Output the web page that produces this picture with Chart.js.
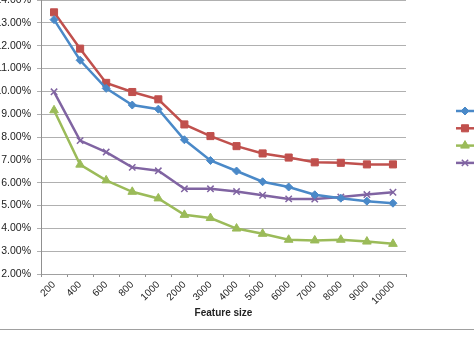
<!DOCTYPE html>
<html>
<head>
<meta charset="utf-8">
<script src="https://cdn.jsdelivr.net/npm/chart.js@4/dist/chart.umd.min.js"></script>
<style>
  html, body { margin: 0; padding: 0; background: #fff; overflow: hidden; width: 474px; height: 354px; }
  /* the original picture is cropped at the top: shift the canvas up */
  canvas { display: block; margin-top: -20px; }
</style>
</head>
<body>
<canvas id="chart" width="474" height="374"></canvas>
<script>
const categories = ['200', '400', '600', '800', '1000', '2000', '3000', '4000', '5000', '6000', '7000', '8000', '9000', '10000'];
const seriesNames = ['Series 1', 'Series 2', 'Series 3', 'Series 4'];
const blueVals   = [13.14, 11.36, 10.13, 9.40, 9.22, 7.88, 6.97, 6.51, 6.04, 5.81, 5.47, 5.32, 5.19, 5.10];
const redVals    = [13.46, 11.87, 10.37, 9.97, 9.65, 8.55, 8.04, 7.60, 7.28, 7.10, 6.89, 6.87, 6.80, 6.80];
const greenVals  = [9.17, 6.79, 6.10, 5.60, 5.31, 4.59, 4.45, 3.99, 3.76, 3.50, 3.47, 3.50, 3.42, 3.32];
const purpleVals = [9.98, 7.84, 7.34, 6.67, 6.52, 5.73, 5.73, 5.61, 5.45, 5.29, 5.28, 5.37, 5.48, 5.58];
const yMin = 2, yMax = 14, yStep = 1;

const colors = ['#4a89c8', '#c0504d', '#9bbb59', '#8064a2'];
const markers = ['rectRot', 'rect', 'triangle', 'crossRot'];
const radii = [4, 5, 5, 4.5];

const shiftY = 20; // same as the canvas margin-top above

function makeSet(i, data) {
  return {
    label: seriesNames[i], data,
    borderColor: colors[i], backgroundColor: colors[i],
    borderWidth: 2.5, tension: 0,
    pointStyle: markers[i], pointRadius: radii[i],
    pointBorderColor: colors[i], pointBackgroundColor: colors[i],
    pointBorderWidth: i === 3 ? 1.5 : 1
  };
}

// legend (its text lies outside the cropped picture) + bottom frame line
const extras = {
  id: 'extras',
  afterDraw(chart) {
    const ctx = chart.ctx;
    ctx.save();
    ctx.strokeStyle = '#a0a0a0';
    ctx.lineWidth = 1;
    ctx.beginPath();
    ctx.moveTo(0, 329.5 + shiftY);
    ctx.lineTo(chart.width, 329.5 + shiftY);
    ctx.stroke();

    chart.data.datasets.forEach((ds, i) => {
      const y = 111 + i * 17.3 + shiftY;
      ctx.strokeStyle = ds.borderColor;
      ctx.lineWidth = 2.5;
      ctx.beginPath();
      ctx.moveTo(456, y);
      ctx.lineTo(476, y);
      ctx.stroke();
      if (Chart.helpers && Chart.helpers.drawPoint) {
        ctx.fillStyle = ds.pointBackgroundColor;
        ctx.strokeStyle = ds.pointBorderColor;
        ctx.lineWidth = ds.pointBorderWidth;
        Chart.helpers.drawPoint(ctx, { pointStyle: ds.pointStyle, radius: ds.pointRadius, rotation: 0, borderWidth: ds.pointBorderWidth }, 465, y);
      }
    });
    ctx.restore();
  }
};

new Chart(document.getElementById('chart'), {
  type: 'line',
  data: {
    labels: categories,
    datasets: [makeSet(0, blueVals), makeSet(1, redVals), makeSet(2, greenVals), makeSet(3, purpleVals)]
  },
  options: {
    responsive: false, maintainAspectRatio: false, animation: false,
    layout: { padding: { left: 0, top: shiftY, right: 68, bottom: 25 } },
    plugins: { legend: { display: false }, tooltip: { enabled: false } },
    scales: {
      x: {
        offset: true,
        grid: { display: true, drawOnChartArea: false, drawTicks: true, tickLength: 3, offset: true, color: '#909090' },
        border: { display: true, color: '#a0a0a0' },
        ticks: { minRotation: 45, maxRotation: 45, padding: 2, color: '#222', font: { family: 'Liberation Sans, Arial', size: 10 }, autoSkip: false },
        title: { display: true, text: 'Feature size', color: '#222', font: { family: 'Liberation Sans, Arial', size: 10, weight: 'bold' }, padding: { top: 0, bottom: 10 } },
        afterFit(scale) { scale.height = 55; scale.paddingLeft = 0; scale.paddingRight = 0; }
      },
      y: {
        min: yMin, max: yMax,
        grid: { color: '#b0b0b0', lineWidth: 1, tickLength: 4 },
        border: { display: true, color: '#909090' },
        ticks: { stepSize: yStep, padding: 6, color: '#222', font: { family: 'Liberation Sans, Arial', size: 10.5 }, callback: v => v.toFixed(2) + '%' },
        afterFit(scale) { scale.width = 41; scale.paddingTop = 0; scale.paddingBottom = 0; }
      }
    }
  },
  plugins: [extras]
});
</script>
</body>
</html>
